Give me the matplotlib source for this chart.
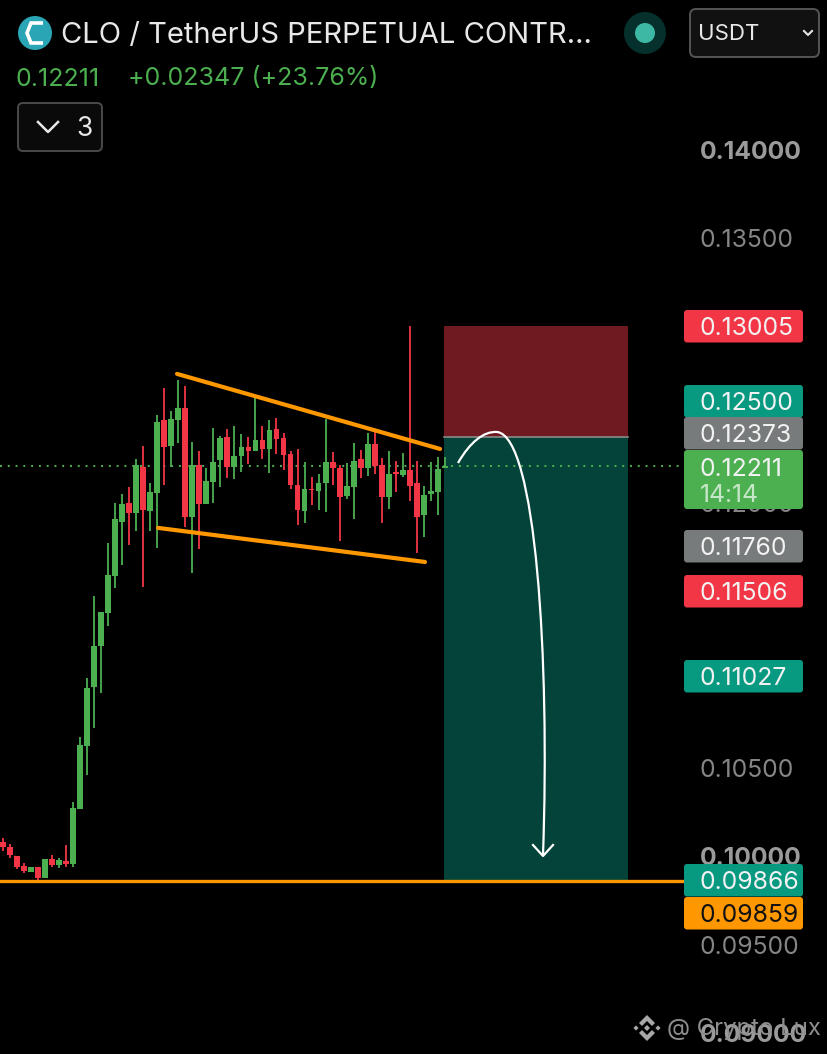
import matplotlib
matplotlib.use("Agg")
import matplotlib.pyplot as plt
import numpy as np
from matplotlib.patches import Circle, Ellipse, FancyBboxPatch, PathPatch, Polygon, Rectangle
from matplotlib.path import Path

plt.rcParams["font.family"] = ["Inter", "DejaVu Sans"]

WIDTH, HEIGHT = 828, 1054
GREEN = "#4caf50"
RED = "#f23645"
ORANGE = "#ff9800"

opens = [
    0.10080, 0.10051, 0.10000, 0.09945, 0.09912, 0.09938, 0.09879, 0.09983,
    0.09949, 0.09974, 0.09957, 0.10270, 0.10625, 0.10957, 0.11193, 0.11380,
    0.11588, 0.11893, 0.11999, 0.11946, 0.12203, 0.11954, 0.12059, 0.12469,
    0.12324, 0.12471, 0.12540, 0.11923, 0.12216, 0.11995, 0.12122, 0.12245,
    0.12375, 0.12203, 0.12267, 0.12320, 0.12295, 0.12356, 0.12308, 0.12418,
    0.12367, 0.12277, 0.12101, 0.11957, 0.12082, 0.12071, 0.12114, 0.12235,
    0.12198, 0.12039, 0.12093, 0.12250, 0.12199, 0.12333, 0.12216, 0.12035,
    0.12173, 0.12160, 0.12190, 0.12114, 0.11935, 0.12052, 0.12065, 0.12198,
]
highs = [
    0.10106, 0.10070, 0.10004, 0.09961, 0.09942, 0.09942, 0.09985, 0.10008,
    0.09989, 0.10063, 0.10306, 0.10674, 0.11008, 0.11475, 0.11384, 0.11776,
    0.11999, 0.12054, 0.12092, 0.12250, 0.12324, 0.12114, 0.12499, 0.12651,
    0.12522, 0.12698, 0.12663, 0.12348, 0.12295, 0.12199, 0.12427, 0.12380,
    0.12418, 0.12437, 0.12391, 0.12375, 0.12599, 0.12438, 0.12469, 0.12484,
    0.12399, 0.12295, 0.12307, 0.12231, 0.12150, 0.12165, 0.12478, 0.12288,
    0.12216, 0.12226, 0.12339, 0.12299, 0.12399, 0.12401, 0.12256, 0.12295,
    0.12239, 0.12283, 0.13003, 0.12239, 0.12097, 0.12231, 0.12263, 0.12263,
]
lows = [
    0.10032, 0.09991, 0.09930, 0.09908, 0.09912, 0.09866, 0.09879, 0.09942,
    0.09936, 0.09940, 0.09942, 0.10270, 0.10461, 0.10725, 0.10927, 0.11303,
    0.11522, 0.11652, 0.11763, 0.11841, 0.11527, 0.11842, 0.11748, 0.12103,
    0.12207, 0.12342, 0.11867, 0.11606, 0.11742, 0.11995, 0.11999, 0.12093,
    0.12143, 0.12135, 0.12175, 0.12220, 0.12295, 0.12248, 0.12173, 0.12277,
    0.12190, 0.12082, 0.11878, 0.11889, 0.11990, 0.11961, 0.11950, 0.12103,
    0.11788, 0.12025, 0.11912, 0.12143, 0.12154, 0.12167, 0.11886, 0.11969,
    0.12065, 0.12147, 0.12012, 0.11720, 0.11810, 0.12014, 0.11933, 0.12198,
]
closes = [
    0.10055, 0.10006, 0.09940, 0.09917, 0.09942, 0.09879, 0.09985, 0.09953,
    0.09978, 0.09955, 0.10276, 0.10629, 0.10955, 0.11191, 0.11384, 0.11594,
    0.11909, 0.11994, 0.11946, 0.12214, 0.11961, 0.12062, 0.12459, 0.12316,
    0.12478, 0.12539, 0.11923, 0.12216, 0.11995, 0.12124, 0.12235, 0.12367,
    0.12207, 0.12267, 0.12318, 0.12295, 0.12357, 0.12308, 0.12414, 0.12363,
    0.12273, 0.12103, 0.11961, 0.12082, 0.12073, 0.12113, 0.12235, 0.12201,
    0.12037, 0.12097, 0.12239, 0.12198, 0.12333, 0.12212, 0.12037, 0.12165,
    0.12167, 0.12188, 0.12099, 0.11923, 0.12046, 0.12067, 0.12195, 0.12211,
]

last_price = 0.12211
zone_top = 0.13005
zone_entry = 0.12373
zone_target = 0.09866
support_price = 0.09859
zone_bars = [62.9, 89.1]
upper_trend_bars = [24.83, 62.3]
upper_trend_prices = [0.12732, 0.12307]
lower_trend_bars = [22.12, 60.15]
lower_trend_prices = [0.11860, 0.11667]

tick_prices = [0.14, 0.135, 0.12, 0.115, 0.11, 0.105, 0.10, 0.095, 0.09]
bold_ticks = [0.14, 0.10, 0.09]

tag_texts = ["0.13005", "0.12500", "0.12373", "0.11760", "0.11506", "0.11027", "0.09866", "0.09859"]
tag_colors = [RED, "#089981", "#787b7b", "#787b7b", RED, "#089981", "#089981", ORANGE]
tag_tops = [310, 385, 417, 530, 575, 660, 864, 897]

TICK_SIZE = 17.8


def draw_candles(ax):
    x = np.arange(len(opens))
    o, h, l, c = map(np.array, (opens, highs, lows, closes))
    colors = [GREEN if up else RED for up in c >= o]
    ax.vlines(x, l, h, colors=colors, linewidth=1.3, zorder=4)
    ax.bar(x, np.maximum(np.abs(c - o), 0.00008), bottom=np.minimum(o, c), width=0.82,
           color=colors, linewidth=0, zorder=5)


def draw_position(ax):
    left, right = zone_bars
    ax.add_patch(Rectangle((left, zone_entry), right - left, zone_top - zone_entry,
                           facecolor="#6e1a20", edgecolor="none", zorder=2))
    ax.add_patch(Rectangle((left, zone_target), right - left, zone_entry - zone_target,
                           facecolor="#04433a", edgecolor="none", zorder=2))
    ax.plot(zone_bars, [zone_entry, zone_entry], color="#8c8c8c", linewidth=1.2, zorder=3)


def draw_tag(ui, text, color, top, height=32.5):
    ui.add_patch(FancyBboxPatch((684, top), 119, height, boxstyle="round,pad=0,rounding_size=3",
                                facecolor=color, edgecolor="none", zorder=3))
    text_color = "#111111" if color == ORANGE else "#f2f2f2"
    ui.text(700, top + height / 2 + 2, text, color=text_color, fontsize=TICK_SIZE,
            va="center", ha="left", zorder=4)


def draw_header(ui):
    # logo
    ui.add_patch(Circle((35, 33), 17, facecolor="#2aa5b5", edgecolor="none"))
    logo = Path([(43, 23), (31, 23), (27, 33), (31, 43), (43, 43)])
    ui.add_patch(PathPatch(logo, facecolor="none", edgecolor="white", linewidth=2.6))
    ui.text(61, 35, "CLO / TetherUS PERPETUAL CONTR...", color="#e8e8e8", fontsize=21,
            va="center", ha="left")
    # market status
    ui.add_patch(Circle((645, 33), 21, facecolor="#06302c", edgecolor="none"))
    ui.add_patch(Ellipse((645, 33), 20, 20, facecolor="#3db8a5", edgecolor="none"))
    # currency selector
    ui.add_patch(FancyBboxPatch((690, 9), 129, 48, boxstyle="round,pad=0,rounding_size=6",
                                facecolor="#111111", edgecolor="#555555", linewidth=1.4))
    ui.text(698, 34.5, "USDT", color="#e8e8e8", fontsize=16, va="center", ha="left")
    ui.plot([804, 808, 812], [31, 35, 31], color="#e8e8e8", linewidth=1.5)
    # price line
    ui.text(16, 79, "0.12211", color=GREEN, fontsize=18, va="center", ha="left")
    ui.text(128, 79, "+0.02347 (+23.76%)", color=GREEN, fontsize=18, va="center", ha="left")
    # collapsed indicators
    ui.add_patch(FancyBboxPatch((18, 103), 84, 48, boxstyle="round,pad=0,rounding_size=5",
                                facecolor="#0a0a0a", edgecolor="#4a4a4a", linewidth=1.4))
    ui.plot([38, 48, 58], [122, 132, 122], color="#e8e8e8", linewidth=1.8)
    ui.text(85, 129, "3", color="#e8e8e8", fontsize=19, va="center", ha="center")


def draw_arrow(ui):
    verts = [(458, 463), (470, 442), (484, 431), (497, 432),
             (536, 436), (550, 660), (543, 855)]
    codes = [Path.MOVETO] + [Path.CURVE4] * 6
    ui.add_patch(PathPatch(Path(verts, codes), facecolor="none", edgecolor="white", linewidth=1.6, zorder=3))
    ui.plot([533, 543, 553], [845, 856, 845], color="white", linewidth=1.6, zorder=3)


def draw_watermark(ui):
    cx, cy = 647, 1028
    grey = "#a8a8a8"
    top = [(0, -13), (8, -5), (5, -2), (0, -7), (-5, -2), (-8, -5)]
    for sign in (1, -1):
        ui.add_patch(Polygon([(cx + dx, cy + sign * dy) for dx, dy in top], facecolor=grey,
                             edgecolor="none", zorder=5))
    for dx, size in [(-11, 2.6), (0, 3), (11, 2.6)]:
        ui.add_patch(Polygon([(cx + dx - size, cy), (cx + dx, cy - size), (cx + dx + size, cy), (cx + dx, cy + size)],
                             facecolor=grey, edgecolor="none", zorder=5))
    ui.text(667, 1029, "@ Crypto Lux", color="#8e8e8e", fontsize=17.2, va="center", ha="left", zorder=5)


fig = plt.figure(figsize=(WIDTH / 100, HEIGHT / 100), dpi=100, facecolor="black")
ax = fig.add_axes([0, 0, 1, 1], facecolor="black")
ax.set_xlim(-0.385, 117.56)
ax.set_ylim(0.08881, 0.14849)
ax.axis("off")

draw_position(ax)
draw_candles(ax)

ax.plot(upper_trend_bars, upper_trend_prices, color=ORANGE, linewidth=3, solid_capstyle="round", zorder=6)
ax.plot(lower_trend_bars, lower_trend_prices, color=ORANGE, linewidth=3, solid_capstyle="round", zorder=6)

# price lines stop at the scale
scale_left = 682 / WIDTH
ax.axhline(support_price, xmax=scale_left, color=ORANGE, linewidth=2.4, zorder=6)
ax.axhline(last_price, xmax=scale_left, color=GREEN, linewidth=1.4, linestyle=(0, (1, 3)), zorder=3)

for price in tick_prices:
    bold = price in bold_ticks
    ax.annotate(f"{price:.5f}", xy=(700 / WIDTH, price), xycoords=ax.get_yaxis_transform(),
                xytext=(0, -1.8), textcoords="offset points",
                color="#9a9a9a" if bold else "#858585", fontsize=TICK_SIZE,
                fontweight="bold" if bold else "normal", va="center", ha="left", zorder=1)

# screen overlay, in pixels
ui = fig.add_axes([0, 0, 1, 1])
ui.set_xlim(0, WIDTH)
ui.set_ylim(HEIGHT, 0)
ui.axis("off")
ui.patch.set_alpha(0)

for text, color, top in zip(tag_texts, tag_colors, tag_tops):
    draw_tag(ui, text, color, top)
ui.add_patch(FancyBboxPatch((684, 450), 119, 59, boxstyle="round,pad=0,rounding_size=3",
                            facecolor=GREEN, edgecolor="none", zorder=3))
ui.text(700, 469, f"{last_price:.5f}", color="#f2f2f2", fontsize=TICK_SIZE, va="center", ha="left", zorder=4)
ui.text(700, 496, "14:14", color="#c6e6c8", fontsize=TICK_SIZE, va="center", ha="left", zorder=4)

draw_header(ui)
draw_arrow(ui)
draw_watermark(ui)

fig.savefig("out.png", dpi=100, facecolor="black")
plt.close(fig)
